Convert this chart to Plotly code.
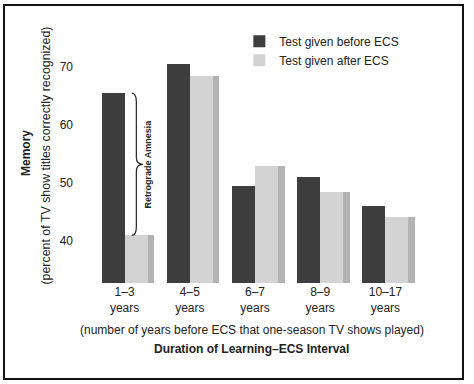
import plotly.graph_objects as go

categories = ["1–3<br>years", "4–5<br>years", "6–7<br>years", "8–9<br>years", "10–17<br>years"]
before_ecs = [65.5, 70.5, 49.5, 51.0, 46.0]
after_ecs = [41.0, 68.4, 52.9, 48.5, 44.1]
y_ticks = [40, 50, 60, 70]

DARK = "#3e3e3e"
LIGHT = "#d3d3d3"
SIDE = "#b3b3b3"
FONT = "Liberation Sans, Arial, sans-serif"
TXT = "#222222"

xpos = list(range(len(categories)))
W = 0.354

fig = go.Figure()
fig.add_trace(go.Bar(x=xpos, y=before_ecs, name="Test given before ECS",
                     marker=dict(color=DARK, line=dict(width=0)),
                     offset=-W, width=W))
fig.add_trace(go.Bar(x=xpos, y=after_ecs, name="Test given after ECS",
                     marker=dict(color=LIGHT, line=dict(width=0)),
                     offset=0, width=W))
# 3D side face of the light bars
fig.add_trace(go.Bar(x=xpos, y=after_ecs, showlegend=False, hoverinfo="skip",
                     marker=dict(color=SIDE, line=dict(width=0)),
                     offset=W, width=0.1))

# Retrograde amnesia brace built from the first group's values
top, bot = before_ecs[0], after_ecs[0]
mid = (top + bot) / 2
x0, x1, x2 = 0.11, 0.18, 0.28
brace = (f"M {x0},{top} Q {x1},{top} {x1},{top-1.5} "
         f"L {x1},{mid+1.2} Q {x1},{mid} {x2},{mid} "
         f"Q {x1},{mid} {x1},{mid-1.2} "
         f"L {x1},{bot+1.5} Q {x1},{bot} {x0},{bot}")
fig.add_shape(type="path", path=brace, xref="x", yref="y",
              line=dict(color=TXT, width=1.2))
fig.add_annotation(x=0.36, y=mid, xref="x", yref="y", text="<b>Retrograde Amnesia</b>",
                   textangle=-90, showarrow=False, font=dict(size=9, color=TXT, family=FONT))

# Y-axis titles
fig.add_annotation(x=-0.23, y=0.514, xref="paper", yref="paper", text="<b>Memory</b>",
                   textangle=-90, showarrow=False, font=dict(size=12, color=TXT, family=FONT))
fig.add_annotation(x=-0.17, y=0.502, xref="paper", yref="paper",
                   text="(percent of TV show titles correctly recognized)",
                   textangle=-90, showarrow=False, font=dict(size=12.4, color=TXT, family=FONT))

# X-axis titles
fig.add_annotation(x=0.49, y=-0.222, xref="paper", yref="paper",
                   text="(number of years before ECS that one-season TV shows played)",
                   showarrow=False, font=dict(size=12, color=TXT, family=FONT))
fig.add_annotation(x=0.49, y=-0.297, xref="paper", yref="paper",
                   text="<b>Duration of Learning–ECS Interval</b>",
                   showarrow=False, font=dict(size=12, color=TXT, family=FONT))

# Frame around the figure
fig.add_shape(type="rect", xref="paper", yref="paper",
              x0=-0.27, x1=1.138, y0=-0.379, y1=1.099,
              line=dict(color="#111111", width=2))

fig.update_layout(
    width=474, height=384,
    margin=dict(l=92, r=56, t=30, b=101),
    paper_bgcolor="white", plot_bgcolor="white",
    barmode="overlay", bargap=0,
    font=dict(family=FONT, color=TXT, size=11),
    showlegend=True,
    legend=dict(x=0.452, y=1.013, xanchor="left", yanchor="top",
                bgcolor="rgba(0,0,0,0)", font=dict(size=12, color=TXT, family=FONT),
                itemsizing="constant", tracegroupgap=0),
)
fig.update_xaxes(range=[-0.5, 4.5], tickmode="array", tickvals=xpos, ticktext=categories,
                 showgrid=False, zeroline=False, showline=False, ticks="",
                 ticklabelstandoff=0,
                 tickfont=dict(size=12, color=TXT, family=FONT))
fig.update_yaxes(range=[32.8, 76.4], tickvals=y_ticks, showgrid=False, zeroline=False,
                 showline=False, ticks="", ticklabelstandoff=18,
                 tickfont=dict(size=12, color=TXT, family=FONT))

fig.write_html("out.html", config={"displayModeBar": False},
               post_script="document.body.style.margin='0';")
